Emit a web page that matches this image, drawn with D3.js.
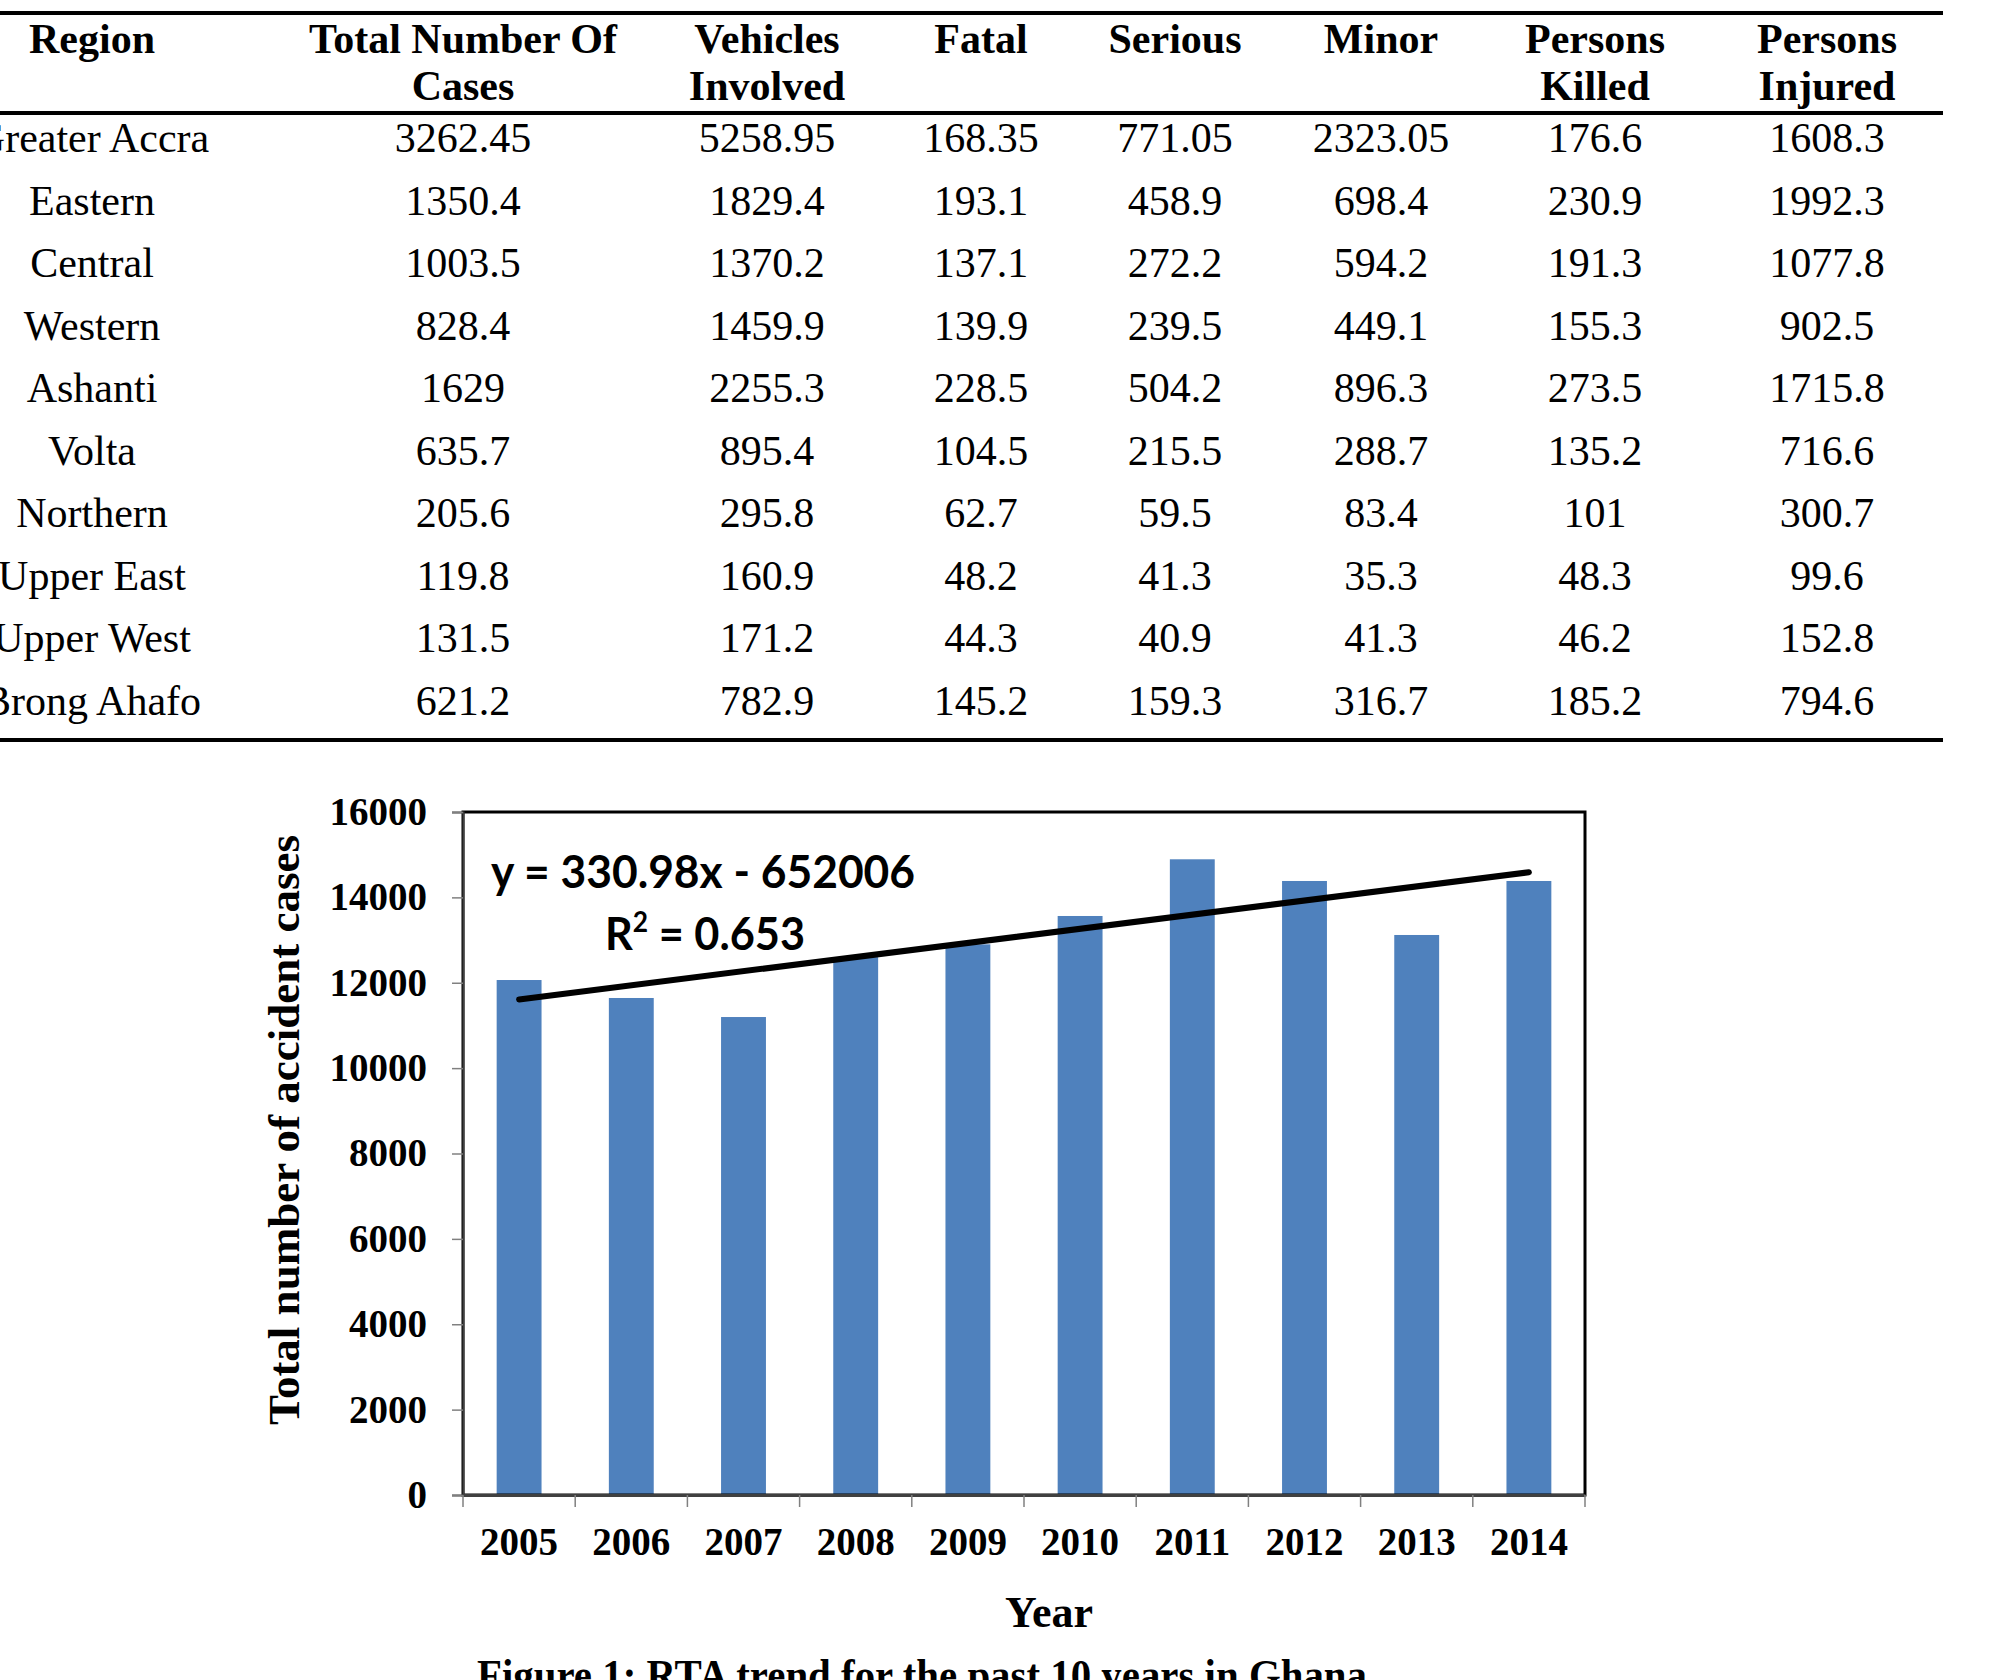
<!DOCTYPE html>
<html>
<head>
<meta charset="utf-8">
<script src="https://cdn.jsdelivr.net/npm/d3@7"></script>
<style>
  html, body { margin: 0; padding: 0; background: #fff; overflow: hidden; }
  svg { display: block; }
</style>
</head>
<body>
<div id="page"></div>
<script>
// table data
const regions = ["Greater Accra", "Eastern", "Central", "Western", "Ashanti",
  "Volta", "Northern", "Upper East", "Upper West", "Brong Ahafo"];
const totalCases = [3262.45, 1350.4, 1003.5, 828.4, 1629, 635.7, 205.6, 119.8, 131.5, 621.2];
const vehicles = [5258.95, 1829.4, 1370.2, 1459.9, 2255.3, 895.4, 295.8, 160.9, 171.2, 782.9];
const fatal = [168.35, 193.1, 137.1, 139.9, 228.5, 104.5, 62.7, 48.2, 44.3, 145.2];
const serious = [771.05, 458.9, 272.2, 239.5, 504.2, 215.5, 59.5, 41.3, 40.9, 159.3];
const minor = [2323.05, 698.4, 594.2, 449.1, 896.3, 288.7, 83.4, 35.3, 41.3, 316.7];
const killed = [176.6, 230.9, 191.3, 155.3, 273.5, 135.2, 101, 48.3, 46.2, 185.2];
const injured = [1608.3, 1992.3, 1077.8, 902.5, 1715.8, 716.6, 300.7, 99.6, 152.8, 794.6];
const headers = [["Region", ""], ["Total Number Of", "Cases"], ["Vehicles", "Involved"],
  ["Fatal", ""], ["Serious", ""], ["Minor", ""], ["Persons", "Killed"], ["Persons", "Injured"]];

// chart data
const years = ["2005", "2006", "2007", "2008", "2009", "2010", "2011", "2012", "2013", "2014"];
const cases = [12064, 11643, 11197, 12600, 12900, 13564, 14892, 14384, 13119, 14384];
const yTicks = [0, 2000, 4000, 6000, 8000, 10000, 12000, 14000, 16000];
const trendEnds = [11609, 14588];   // trend line value at 2005 and 2014
const equation = "y = 330.98x - 652006";

const width = 1991, height = 1680;
const serif = "'Liberation Serif', 'Times New Roman', serif";

const svg = d3.select("#page").append("svg")
  .attr("width", width)
  .attr("height", height);

svg.append("rect").attr("width", width).attr("height", height).attr("fill", "#fff");

// ---------- table ----------
const colX = [92, 463, 767, 981, 1175, 1381, 1595, 1827];
const columns = [regions, totalCases, vehicles, fatal, serious, minor, killed, injured];

const table = svg.append("g").attr("font-family", serif).attr("font-size", 42).attr("fill", "#000");

[13, 113, 740].forEach(y => {
  table.append("line")
    .attr("x1", 0).attr("x2", 1943)
    .attr("y1", y).attr("y2", y)
    .attr("stroke", "#000")
    .attr("stroke-width", 4);
});

headers.forEach((h, i) => {
  h.forEach((t, j) => {
    if (!t) return;
    table.append("text")
      .attr("x", colX[i])
      .attr("y", 53 + j * 47)
      .attr("text-anchor", "middle")
      .attr("font-weight", "bold")
      .text(t);
  });
});

columns.forEach((col, i) => {
  table.append("g").selectAll("text")
    .data(col)
    .join("text")
    .attr("x", colX[i])
    .attr("y", (d, r) => 152 + r * 62.5)
    .attr("text-anchor", "middle")
    .text(d => d);
});

// ---------- bar chart ----------
const margin = { top: 812, right: 406, bottom: 185, left: 463 };

const x = d3.scaleBand()
  .domain(years)
  .range([margin.left, width - margin.right])
  .paddingInner(0.6)
  .paddingOuter(0.3);

const xCat = d3.scaleBand()
  .domain(years)
  .range([margin.left, width - margin.right]);

const y = d3.scaleLinear()
  .domain([0, 16000])
  .range([height - margin.bottom, margin.top]);

const chart = svg.append("g");

chart.append("g")
  .selectAll("rect")
  .data(cases)
  .join("rect")
  .attr("x", (d, i) => x(years[i]))
  .attr("y", d => y(d))
  .attr("width", x.bandwidth())
  .attr("height", d => y(0) - y(d))
  .attr("fill", "#4F81BD");

// plot area frame
chart.append("rect")
  .attr("x", margin.left)
  .attr("y", margin.top)
  .attr("width", width - margin.right - margin.left)
  .attr("height", y(0) - margin.top)
  .attr("fill", "none")
  .attr("stroke", "#000")
  .attr("stroke-width", 3);

// y axis
const yAxis = chart.append("g")
  .attr("transform", `translate(${margin.left},0)`)
  .call(d3.axisLeft(y).tickValues(yTicks).tickSize(11).tickPadding(25).tickFormat(d3.format("d")));
yAxis.select(".domain").attr("stroke", "#404040").attr("stroke-width", 2);
yAxis.selectAll(".tick line").attr("stroke", "#808080").attr("stroke-width", 1.5);
yAxis.selectAll(".tick text")
  .attr("font-family", serif)
  .attr("font-size", 39)
  .attr("font-weight", "bold")
  .attr("fill", "#000");

// x axis
const xAxis = chart.append("g")
  .attr("transform", `translate(0,${y(0)})`)
  .call(d3.axisBottom(x).tickSize(0).tickPadding(32));
xAxis.select(".domain").attr("stroke", "#404040").attr("stroke-width", 3);
xAxis.selectAll(".tick text")
  .attr("font-family", serif)
  .attr("font-size", 39)
  .attr("font-weight", "bold")
  .attr("fill", "#000");

const bounds = years.map(d => xCat(d)).concat([width - margin.right]);
xAxis.append("g")
  .selectAll("line")
  .data(bounds)
  .join("line")
  .attr("x1", d => d).attr("x2", d => d)
  .attr("y1", 0).attr("y2", 12)
  .attr("stroke", "#808080")
  .attr("stroke-width", 1.5);

// trend line
const trendLine = d3.line()
  .x(d => x(d.year) + x.bandwidth() / 2)
  .y(d => y(d.value));

chart.append("path")
  .datum([{ year: years[0], value: trendEnds[0] }, { year: years[years.length - 1], value: trendEnds[1] }])
  .attr("fill", "none")
  .attr("stroke", "#000")
  .attr("stroke-width", 6)
  .attr("stroke-linecap", "round")
  .attr("d", trendLine);

// equation labels
const eq = chart.append("g")
  .attr("font-family", "Lato, 'Open Sans', sans-serif")
  .attr("font-weight", "bold")
  .attr("font-size", 46)
  .attr("fill", "#000");

eq.append("text")
  .attr("x", 491).attr("y", 888)
  .attr("textLength", 424)
  .attr("lengthAdjust", "spacingAndGlyphs")
  .text(equation);

const r2 = eq.append("text")
  .attr("x", 605).attr("y", 950)
  .attr("textLength", 200)
  .attr("lengthAdjust", "spacingAndGlyphs");
r2.append("tspan").text("R");
r2.append("tspan").attr("font-size", 28).attr("dy", -18).text("2");
r2.append("tspan").attr("dy", 18).text(" = 0.653");

// axis titles
chart.append("text")
  .attr("transform", `translate(299,1130) rotate(-90)`)
  .attr("text-anchor", "middle")
  .attr("font-family", serif)
  .attr("font-weight", "bold")
  .attr("font-size", 45)
  .text("Total number of accident cases");

chart.append("text")
  .attr("x", 1049)
  .attr("y", 1627)
  .attr("text-anchor", "middle")
  .attr("font-family", serif)
  .attr("font-weight", "bold")
  .attr("font-size", 44)
  .text("Year");

// figure caption (cut by the bottom edge)
svg.append("text")
  .attr("x", 477)
  .attr("y", 1690)
  .attr("font-family", serif)
  .attr("font-weight", "bold")
  .attr("font-size", 44)
  .attr("textLength", 890)
  .attr("lengthAdjust", "spacingAndGlyphs")
  .text("Figure 1:  RTA trend for the past 10 years in Ghana");
</script>
</body>
</html>
